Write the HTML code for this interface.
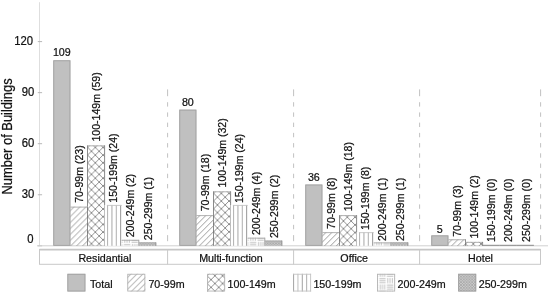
<!DOCTYPE html><html><head><meta charset="utf-8"><style>html,body{margin:0;padding:0;background:#fff;}svg{display:block;}text{font-family:"Liberation Sans", Arial, sans-serif;fill:#111;stroke:#111;stroke-width:0.22px;}</style></head><body>
<svg width="550" height="295" viewBox="0 0 550 295">
<defs><pattern id="p1" patternUnits="userSpaceOnUse" width="5.95" height="5.95"><path d="M-1,1 L1,-1 M0,5.95 L5.95,0 M4.95,6.95 L6.95,4.95" stroke="#666" stroke-width="0.65"/></pattern>
<pattern id="p2" patternUnits="userSpaceOnUse" width="7.70" height="7.70"><path d="M-1,1 L1,-1 M0,7.70 L7.70,0 M6.70,8.70 L8.70,6.70 M-1,6.70 L1,8.70 M0,0 L7.70,7.70 M6.70,-1 L8.70,1" stroke="#606060" stroke-width="0.7"/></pattern>
<pattern id="p3" patternUnits="userSpaceOnUse" width="4.30" height="10"><path d="M3.6,0 V10" stroke="#8c8c8c" stroke-width="0.7"/></pattern>
<pattern id="p4" patternUnits="userSpaceOnUse" width="15.20" height="12.80"><rect width="15.20" height="12.80" fill="#fff"/><path d="M0.60,1.20 H7.00 M0.60,3.20 H7.00 M0.60,5.20 H7.00 M9.20,0.60 V5.80 M11.40,0.60 V5.80 M13.60,0.60 V5.80 M1.60,7.00 V12.20 M3.80,7.00 V12.20 M6.00,7.00 V12.20 M8.20,7.60 H14.60 M8.20,9.60 H14.60 M8.20,11.60 H14.60" stroke="#a8a8a8" stroke-width="0.7"/></pattern>
<pattern id="p5" patternUnits="userSpaceOnUse" width="2.80" height="2.80"><rect width="2.80" height="2.80" fill="#cdcdcd"/><path d="M-1,1 L1,-1 M0,2.80 L2.80,0 M1.80,3.80 L3.80,1.80 M-1,1.80 L1,3.80 M0,0 L2.80,2.80 M1.80,-1 L3.80,1" stroke="#9a9a9a" stroke-width="0.6"/></pattern></defs>
<line x1="39.5" y1="2.2" x2="39.5" y2="246" stroke="#dedede" stroke-width="1"/>
<line x1="37.8" y1="245.80" x2="42.1" y2="245.80" stroke="#b8b8b8" stroke-width="1"/>
<text transform="translate(33.60,243.00) scale(1,1.1)" font-size="11.3" text-anchor="end">0</text>
<line x1="37.8" y1="194.75" x2="42.1" y2="194.75" stroke="#b8b8b8" stroke-width="1"/>
<text transform="translate(34.30,197.75) scale(1,1.1)" font-size="11.3" text-anchor="end">30</text>
<line x1="37.8" y1="143.70" x2="42.1" y2="143.70" stroke="#b8b8b8" stroke-width="1"/>
<text transform="translate(34.40,146.70) scale(1,1.1)" font-size="11.3" text-anchor="end">60</text>
<line x1="37.8" y1="92.65" x2="42.1" y2="92.65" stroke="#b8b8b8" stroke-width="1"/>
<text transform="translate(34.40,95.65) scale(1,1.1)" font-size="11.3" text-anchor="end">90</text>
<line x1="37.8" y1="41.60" x2="42.1" y2="41.60" stroke="#b8b8b8" stroke-width="1"/>
<text transform="translate(33.10,44.60) scale(1,1.1)" font-size="11.3" text-anchor="end">120</text>
<text transform="translate(11.7,136.4) rotate(-90) scale(1,1.09)" font-size="12.9" text-anchor="middle">Number of Buildings</text>
<line x1="37" y1="245.8" x2="548" y2="245.8" stroke="#d0d0d0" stroke-width="1"/>
<line x1="167.6" y1="89.4" x2="167.6" y2="96.2" stroke="#c2c2c2" stroke-width="1"/>
<line x1="167.6" y1="102.2" x2="167.6" y2="235.1" stroke="#c2c2c2" stroke-width="1" stroke-dasharray="4.4 5.82"/>
<line x1="167.6" y1="235.1" x2="167.6" y2="241.2" stroke="#c2c2c2" stroke-width="1"/>
<line x1="293.6" y1="89.4" x2="293.6" y2="96.2" stroke="#c2c2c2" stroke-width="1"/>
<line x1="293.6" y1="102.2" x2="293.6" y2="235.1" stroke="#c2c2c2" stroke-width="1" stroke-dasharray="4.4 5.82"/>
<line x1="293.6" y1="235.1" x2="293.6" y2="241.2" stroke="#c2c2c2" stroke-width="1"/>
<line x1="419.6" y1="89.4" x2="419.6" y2="96.2" stroke="#c2c2c2" stroke-width="1"/>
<line x1="419.6" y1="102.2" x2="419.6" y2="235.1" stroke="#c2c2c2" stroke-width="1" stroke-dasharray="4.4 5.82"/>
<line x1="419.6" y1="235.1" x2="419.6" y2="241.2" stroke="#c2c2c2" stroke-width="1"/>
<line x1="540.6" y1="89.4" x2="540.6" y2="96.2" stroke="#c2c2c2" stroke-width="1"/>
<line x1="540.6" y1="102.2" x2="540.6" y2="235.1" stroke="#c2c2c2" stroke-width="1" stroke-dasharray="4.4 5.82"/>
<line x1="540.6" y1="235.1" x2="540.6" y2="241.2" stroke="#c2c2c2" stroke-width="1"/>
<g transform="translate(53.30,60.31)"><rect x="0.00" y="0.00" width="17.10" height="185.49" fill="#c0c0c0"/></g>
<rect x="53.75" y="60.76" width="16.20" height="184.59" fill="none" stroke="#a0a0a0" stroke-width="0.9"/>
<text x="61.85" y="56.31" font-size="10.7" text-anchor="middle">109</text>
<g transform="translate(70.40,204.61)"><rect x="0.00" y="2.05" width="17.10" height="39.14" fill="url(#p1)"/></g>
<path d="M70.40,207.11 H87.50" fill="none" stroke="#a8a8a8" stroke-width="0.9"/>
<line x1="87.50" y1="206.66" x2="87.50" y2="245.80" stroke="#7e7e7e" stroke-width="0.9"/>
<text transform="translate(83.15,202.76) rotate(-90)" font-size="10.55">70-99m (23)</text>
<g transform="translate(83.75,143.55)"><rect x="3.75" y="1.85" width="17.10" height="100.40" fill="url(#p2)"/></g>
<path d="M87.50,145.85 H104.60" fill="none" stroke="#a8a8a8" stroke-width="0.9"/>
<line x1="87.50" y1="145.40" x2="87.50" y2="206.66" stroke="#7e7e7e" stroke-width="0.9"/>
<line x1="104.60" y1="145.40" x2="104.60" y2="245.80" stroke="#7e7e7e" stroke-width="0.9"/>
<text transform="translate(100.25,141.50) rotate(-90)" font-size="10.55">100-149m (59)</text>
<rect x="104.60" y="204.96" width="17.10" height="40.84" fill="#fff"/>
<line x1="107.60" y1="204.96" x2="107.60" y2="245.80" stroke="#9a9a9a" stroke-width="0.8"/>
<line x1="111.95" y1="204.96" x2="111.95" y2="245.80" stroke="#909090" stroke-width="0.8"/>
<line x1="116.30" y1="204.96" x2="116.30" y2="245.80" stroke="#9a9a9a" stroke-width="0.8"/>
<line x1="120.65" y1="204.96" x2="120.65" y2="245.80" stroke="#7c7c7c" stroke-width="0.8"/>
<line x1="106.90" y1="205.41" x2="121.70" y2="205.41" stroke="#c4c4c4" stroke-width="0.9"/>
<text transform="translate(117.35,202.66) rotate(-90)" font-size="10.55">150-199m (24)</text>
<g transform="translate(115.70,237.00)"><rect x="6.00" y="2.80" width="17.10" height="6.00" fill="url(#p4)"/></g>
<path d="M121.70,240.25 H138.80" fill="none" stroke="#a8a8a8" stroke-width="0.9"/>
<line x1="138.80" y1="239.80" x2="138.80" y2="245.80" stroke="#9a9a9a" stroke-width="0.9"/>
<text transform="translate(134.45,237.30) rotate(-90)" font-size="10.55">200-249m (2)</text>
<g transform="translate(138.80,242.40)"><rect x="0.00" y="0.00" width="17.10" height="3.40" fill="url(#p5)"/></g>
<path d="M138.80,242.85 H155.90" fill="none" stroke="#a8a8a8" stroke-width="0.9"/>
<line x1="155.90" y1="242.40" x2="155.90" y2="245.80" stroke="#8a8a8a" stroke-width="0.9"/>
<text transform="translate(151.55,240.20) rotate(-90)" font-size="10.55">250-299m (1)</text>
<g transform="translate(179.30,109.66)"><rect x="0.00" y="0.00" width="17.10" height="136.14" fill="#c0c0c0"/></g>
<rect x="179.75" y="110.11" width="16.20" height="135.24" fill="none" stroke="#a0a0a0" stroke-width="0.9"/>
<text x="187.85" y="105.66" font-size="10.7" text-anchor="middle">80</text>
<g transform="translate(196.40,213.12)"><rect x="0.00" y="2.05" width="17.10" height="30.63" fill="url(#p1)"/></g>
<path d="M196.40,215.62 H213.50" fill="none" stroke="#a8a8a8" stroke-width="0.9"/>
<line x1="213.50" y1="215.17" x2="213.50" y2="245.80" stroke="#7e7e7e" stroke-width="0.9"/>
<text transform="translate(209.15,211.27) rotate(-90)" font-size="10.55">70-99m (18)</text>
<g transform="translate(209.75,189.50)"><rect x="3.75" y="1.85" width="17.10" height="54.45" fill="url(#p2)"/></g>
<path d="M213.50,191.80 H230.60" fill="none" stroke="#a8a8a8" stroke-width="0.9"/>
<line x1="213.50" y1="191.35" x2="213.50" y2="215.17" stroke="#7e7e7e" stroke-width="0.9"/>
<line x1="230.60" y1="191.35" x2="230.60" y2="245.80" stroke="#7e7e7e" stroke-width="0.9"/>
<text transform="translate(226.25,187.45) rotate(-90)" font-size="10.55">100-149m (32)</text>
<rect x="230.60" y="204.96" width="17.10" height="40.84" fill="#fff"/>
<line x1="233.60" y1="204.96" x2="233.60" y2="245.80" stroke="#9a9a9a" stroke-width="0.8"/>
<line x1="237.95" y1="204.96" x2="237.95" y2="245.80" stroke="#909090" stroke-width="0.8"/>
<line x1="242.30" y1="204.96" x2="242.30" y2="245.80" stroke="#9a9a9a" stroke-width="0.8"/>
<line x1="246.65" y1="204.96" x2="246.65" y2="245.80" stroke="#7c7c7c" stroke-width="0.8"/>
<line x1="232.90" y1="205.41" x2="247.70" y2="205.41" stroke="#c4c4c4" stroke-width="0.9"/>
<text transform="translate(243.35,203.06) rotate(-90)" font-size="10.55">150-199m (24)</text>
<g transform="translate(241.70,234.90)"><rect x="6.00" y="2.80" width="17.10" height="8.10" fill="url(#p4)"/></g>
<path d="M247.70,238.15 H264.80" fill="none" stroke="#a8a8a8" stroke-width="0.9"/>
<line x1="264.80" y1="237.70" x2="264.80" y2="245.80" stroke="#9a9a9a" stroke-width="0.9"/>
<text transform="translate(260.45,235.09) rotate(-90)" font-size="10.55">200-249m (4)</text>
<g transform="translate(264.80,240.60)"><rect x="0.00" y="0.00" width="17.10" height="5.20" fill="url(#p5)"/></g>
<path d="M264.80,241.05 H281.90" fill="none" stroke="#a8a8a8" stroke-width="0.9"/>
<line x1="281.90" y1="240.60" x2="281.90" y2="245.80" stroke="#8a8a8a" stroke-width="0.9"/>
<text transform="translate(277.55,238.00) rotate(-90)" font-size="10.55">250-299m (2)</text>
<g transform="translate(305.30,184.54)"><rect x="0.00" y="0.00" width="17.10" height="61.26" fill="#c0c0c0"/></g>
<rect x="305.75" y="184.99" width="16.20" height="60.36" fill="none" stroke="#a0a0a0" stroke-width="0.9"/>
<text x="313.85" y="180.54" font-size="10.7" text-anchor="middle">36</text>
<g transform="translate(322.40,230.14)"><rect x="0.00" y="2.05" width="17.10" height="13.61" fill="url(#p1)"/></g>
<path d="M322.40,232.64 H339.50" fill="none" stroke="#a8a8a8" stroke-width="0.9"/>
<line x1="339.50" y1="232.19" x2="339.50" y2="245.80" stroke="#7e7e7e" stroke-width="0.9"/>
<text transform="translate(335.15,228.99) rotate(-90)" font-size="10.55">70-99m (8)</text>
<g transform="translate(335.75,213.32)"><rect x="3.75" y="1.85" width="17.10" height="30.63" fill="url(#p2)"/></g>
<path d="M339.50,215.62 H356.60" fill="none" stroke="#a8a8a8" stroke-width="0.9"/>
<line x1="339.50" y1="215.17" x2="339.50" y2="232.19" stroke="#7e7e7e" stroke-width="0.9"/>
<line x1="356.60" y1="215.17" x2="356.60" y2="245.80" stroke="#7e7e7e" stroke-width="0.9"/>
<text transform="translate(352.25,211.27) rotate(-90)" font-size="10.55">100-149m (18)</text>
<rect x="356.60" y="232.19" width="17.10" height="13.61" fill="#fff"/>
<line x1="359.60" y1="232.19" x2="359.60" y2="245.80" stroke="#9a9a9a" stroke-width="0.8"/>
<line x1="363.95" y1="232.19" x2="363.95" y2="245.80" stroke="#909090" stroke-width="0.8"/>
<line x1="368.30" y1="232.19" x2="368.30" y2="245.80" stroke="#9a9a9a" stroke-width="0.8"/>
<line x1="372.65" y1="232.19" x2="372.65" y2="245.80" stroke="#7c7c7c" stroke-width="0.8"/>
<line x1="358.90" y1="232.64" x2="373.70" y2="232.64" stroke="#c4c4c4" stroke-width="0.9"/>
<text transform="translate(369.35,229.99) rotate(-90)" font-size="10.55">150-199m (8)</text>
<g transform="translate(367.70,239.60)"><rect x="6.00" y="2.80" width="17.10" height="3.40" fill="url(#p4)"/></g>
<path d="M373.70,242.85 H390.80" fill="none" stroke="#a8a8a8" stroke-width="0.9"/>
<line x1="390.80" y1="242.40" x2="390.80" y2="245.80" stroke="#9a9a9a" stroke-width="0.9"/>
<text transform="translate(386.45,241.00) rotate(-90)" font-size="10.55">200-249m (1)</text>
<g transform="translate(390.80,242.40)"><rect x="0.00" y="0.00" width="17.10" height="3.40" fill="url(#p5)"/></g>
<path d="M390.80,242.85 H407.90" fill="none" stroke="#a8a8a8" stroke-width="0.9"/>
<line x1="407.90" y1="242.40" x2="407.90" y2="245.80" stroke="#8a8a8a" stroke-width="0.9"/>
<text transform="translate(403.55,241.00) rotate(-90)" font-size="10.55">250-299m (1)</text>
<g transform="translate(431.30,235.40)"><rect x="0.00" y="0.00" width="17.10" height="10.40" fill="#c0c0c0"/></g>
<rect x="431.75" y="235.85" width="16.20" height="9.50" fill="none" stroke="#a0a0a0" stroke-width="0.9"/>
<text x="439.85" y="233.29" font-size="10.7" text-anchor="middle">5</text>
<g transform="translate(448.40,237.25)"><rect x="0.00" y="2.05" width="17.10" height="6.50" fill="url(#p1)"/></g>
<path d="M448.40,239.75 H465.50" fill="none" stroke="#a8a8a8" stroke-width="0.9"/>
<line x1="465.50" y1="239.30" x2="465.50" y2="245.80" stroke="#7e7e7e" stroke-width="0.9"/>
<text transform="translate(461.15,236.79) rotate(-90)" font-size="10.55">70-99m (3)</text>
<g transform="translate(461.75,240.05)"><rect x="3.75" y="1.85" width="17.10" height="3.90" fill="url(#p2)"/></g>
<path d="M465.50,242.35 H482.60" fill="none" stroke="#a8a8a8" stroke-width="0.9"/>
<line x1="482.60" y1="241.90" x2="482.60" y2="245.80" stroke="#7e7e7e" stroke-width="0.9"/>
<text transform="translate(478.25,238.50) rotate(-90)" font-size="10.55">100-149m (2)</text>
<line x1="482.60" y1="245.3" x2="499.70" y2="245.3" stroke="#8a8a8a" stroke-width="1"/>
<text transform="translate(495.35,241.90) rotate(-90)" font-size="10.55">150-199m (0)</text>
<line x1="499.70" y1="245.3" x2="516.80" y2="245.3" stroke="#8a8a8a" stroke-width="1"/>
<text transform="translate(512.45,241.90) rotate(-90)" font-size="10.55">200-249m (0)</text>
<line x1="516.80" y1="245.3" x2="533.90" y2="245.3" stroke="#8a8a8a" stroke-width="1"/>
<text transform="translate(529.55,241.90) rotate(-90)" font-size="10.55">250-299m (0)</text>
<rect x="39.5" y="249.5" width="501" height="14.8" fill="#fff" stroke="#c8c8c8" stroke-width="1"/>
<line x1="39.5" y1="249.6" x2="540.5" y2="249.6" stroke="#c6c6c6" stroke-width="1.6"/>
<line x1="167.6" y1="249.5" x2="167.6" y2="264.3" stroke="#c8c8c8" stroke-width="1"/>
<line x1="293.6" y1="249.5" x2="293.6" y2="264.3" stroke="#c8c8c8" stroke-width="1"/>
<line x1="419.6" y1="249.5" x2="419.6" y2="264.3" stroke="#c8c8c8" stroke-width="1"/>
<text x="104.85" y="261.6" font-size="10.7" text-anchor="middle">Residantial</text>
<text x="230.95" y="261.6" font-size="10.7" text-anchor="middle">Multi-function</text>
<text x="354.20" y="261.6" font-size="10.7" text-anchor="middle">Office</text>
<text x="480.50" y="261.6" font-size="10.7" text-anchor="middle">Hotel</text>
<g transform="translate(67.40,273.80)"><rect x="0.00" y="0.00" width="18.00" height="17.70" fill="#c0c0c0"/></g>
<rect x="67.85" y="274.25" width="17.10" height="16.80" fill="none" stroke="#a0a0a0" stroke-width="0.9"/>
<text x="90.00" y="288.0" font-size="10.7">Total</text>
<g transform="translate(127.30,271.75)"><rect x="0.00" y="2.05" width="18.00" height="17.70" fill="url(#p1)"/></g>
<rect x="127.75" y="274.25" width="17.10" height="16.80" fill="none" stroke="#b4b4b4" stroke-width="0.9"/>
<text x="148.40" y="288.0" font-size="10.7">70-99m</text>
<g transform="translate(203.35,271.95)"><rect x="3.75" y="1.85" width="18.00" height="17.70" fill="url(#p2)"/></g>
<rect x="207.55" y="274.25" width="17.10" height="16.80" fill="none" stroke="#b4b4b4" stroke-width="0.9"/>
<text x="227.50" y="288.0" font-size="10.7">100-149m</text>
<rect x="293.10" y="273.80" width="18.00" height="17.70" fill="#fff"/>
<line x1="293.60" y1="273.80" x2="293.60" y2="291.50" stroke="#8a8a8a" stroke-width="0.8"/>
<line x1="297.95" y1="273.80" x2="297.95" y2="291.50" stroke="#b0b0b0" stroke-width="0.8"/>
<line x1="302.30" y1="273.80" x2="302.30" y2="291.50" stroke="#8a8a8a" stroke-width="0.8"/>
<line x1="306.65" y1="273.80" x2="306.65" y2="291.50" stroke="#9a9a9a" stroke-width="0.8"/>
<line x1="310.60" y1="273.80" x2="310.60" y2="291.50" stroke="#b8b8b8" stroke-width="0.8"/>
<line x1="293.10" y1="274.25" x2="311.10" y2="274.25" stroke="#c4c4c4" stroke-width="0.9"/>
<line x1="293.10" y1="291.05" x2="311.10" y2="291.05" stroke="#c4c4c4" stroke-width="0.9"/>
<text x="313.40" y="288.0" font-size="10.7">150-199m</text>
<g transform="translate(371.10,271.00)"><rect x="6.00" y="2.80" width="18.00" height="17.70" fill="url(#p4)"/></g>
<rect x="377.55" y="274.25" width="17.10" height="16.80" fill="none" stroke="#b4b4b4" stroke-width="0.9"/>
<text x="397.60" y="288.0" font-size="10.7">200-249m</text>
<g transform="translate(458.20,273.80)"><rect x="0.00" y="0.00" width="18.00" height="17.70" fill="url(#p5)"/></g>
<rect x="458.65" y="274.25" width="17.10" height="16.80" fill="none" stroke="#a0a0a0" stroke-width="0.9"/>
<text x="478.70" y="288.0" font-size="10.7">250-299m</text>
</svg></body></html>
